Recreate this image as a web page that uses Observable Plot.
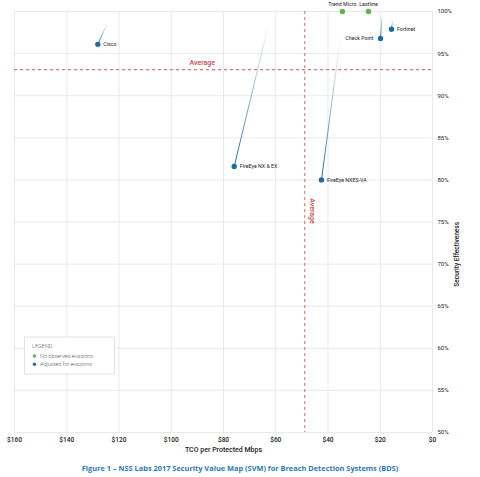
<!DOCTYPE html>
<html>
<head>
<meta charset="utf-8">
<script src="https://cdn.jsdelivr.net/npm/d3@7"></script>
<script src="https://cdn.jsdelivr.net/npm/@observablehq/plot@0.6"></script>
<style>
  body { margin: 0; background: white; }
  #chart { position: relative; width: 480px; }
  #caption { font-family: "Open Sans", sans-serif; font-weight: 700; font-size: 7.4px; color: #2a7ab5; text-align: center; width: 480px; margin-top: 5px; }
</style>
</head>
<body>
<div id="chart"></div>
<div id="caption">Figure 1 – NSS Labs 2017 Security Value Map (SVM) for Breach Detection Systems (BDS)</div>
<script>
const vendors = ["Cisco", "FireEye NX & EX", "FireEye NXES-VA", "Check Point", "Fortinet", "Trend Micro", "Lastline"];
const tco = [128.1, 75.9, 42.5, 19.9, 15.7, 34.5, 24.5];
const security = [96.1, 81.6, 80.0, 96.8, 97.9, 100, 100];
const rawTco = [124.5, 62.9, 35.5, 19.3, 15.3, null, null];
const rawSecurity = [98.6, 98.3, 96.3, 99.6, 98.9, null, null];
const status = ["Adjusted for evasions", "Adjusted for evasions", "Adjusted for evasions", "Adjusted for evasions", "Adjusted for evasions", "No observed evasions", "No observed evasions"];
const labelPos = ["right", "right", "right", "left", "right", "top", "top"];
const avgTco = 48.9;
const avgSecurity = 93.1;
const xTicks = [160, 140, 120, 100, 80, 60, 40, 20, 0];
const yTicks = [50, 55, 60, 65, 70, 75, 80, 85, 90, 95, 100];

const blue = "#1a6ca8", green = "#5cb646", red = "#c8484b";
const rows = vendors.map((v, i) => ({vendor: v, tco: tco[i], se: security[i], rawTco: rawTco[i], rawSe: rawSecurity[i], status: status[i], pos: labelPos[i]}));
const adjusted = rows.filter(d => d.rawTco != null);
const colorOf = s => s === "No observed evasions" ? green : blue;

const svg = Plot.plot({
  width: 480, height: 458,
  marginLeft: 14, marginRight: 48, marginTop: 11, marginBottom: 26,
  style: {fontFamily: "Roboto, sans-serif", background: "white", overflow: "visible"},
  x: {domain: [160, 0]},
  y: {domain: [50, 100]},
  marks: [
    Plot.ruleX(xTicks, {stroke: "#e3e3e3", strokeWidth: 0.8}),
    Plot.ruleY(yTicks, {stroke: "#e3e3e3", strokeWidth: 0.8}),
    Plot.axisX({ticks: xTicks, tickFormat: d => "$" + d, tickSize: 0, tickPadding: 5, fontSize: 6.5, fontWeight: 500, fill: "#222", label: null}),
    Plot.axisY({anchor: "right", ticks: yTicks, tickFormat: d => d + "%", tickSize: 0, tickPadding: 5, fontSize: 6, fill: "#222", label: null}),
    Plot.text(["TCO per Protected Mbps"], {frameAnchor: "bottom", dy: 19, fontSize: 7, fontWeight: 500, fill: "#222"}),
    Plot.text(["Security Effectiveness"], {frameAnchor: "right", dx: 24, rotate: -90, fontSize: 6.5, fontWeight: 500, fill: "#222"}),
    Plot.ruleY([avgSecurity], {stroke: red, strokeOpacity: 0.75, strokeDasharray: "3,3", strokeWidth: 1.1}),
    Plot.ruleX([avgTco], {stroke: red, strokeOpacity: 0.75, strokeDasharray: "3,3", strokeWidth: 1.1}),
    Plot.text(["Average"], {x: 88.1, y: avgSecurity, dy: -7, fill: red, fontSize: 7, fontWeight: 500}),
    Plot.text(["Average"], {x: 46.1, y: 76.3, rotate: 90, fill: red, fontSize: 7, fontWeight: 500}),
    Plot.link(adjusted, {x1: "rawTco", y1: "rawSe", x2: "tco", y2: "se", stroke: "url(#fade)", strokeWidth: 1}),
    Plot.dot(rows, {x: "tco", y: "se", r: 2.7, fill: d => colorOf(d.status)}),
    Plot.text(rows.filter(d => d.pos === "right"), {x: "tco", y: "se", text: "vendor", dx: 5.5, textAnchor: "start", fontSize: 5.3, fill: "#222"}),
    Plot.text(rows.filter(d => d.pos === "left"), {x: "tco", y: "se", text: "vendor", dx: -7, textAnchor: "end", fontSize: 5.3, fill: "#222"}),
    Plot.text(rows.filter(d => d.pos === "top"), {x: "tco", y: "se", text: "vendor", dy: -7, fontSize: 5.3, fill: "#222"})
  ]
});

const s = d3.select(svg);
const defs = s.insert("defs", ":first-child");
const g = defs.append("linearGradient").attr("id", "fade").attr("x1", 0).attr("y1", 0).attr("x2", 0).attr("y2", 1);
g.append("stop").attr("offset", "0%").attr("stop-color", blue).attr("stop-opacity", 0.03);
g.append("stop").attr("offset", "100%").attr("stop-color", blue).attr("stop-opacity", 1);

// Legend box inside the plot
const lg = s.append("g").attr("font-family", "Roboto, sans-serif").attr("text-anchor", "start");
lg.append("rect").attr("x", 24.5).attr("y", 337).attr("width", 90).attr("height", 37).attr("fill", "white").attr("stroke", "#dcdcdc").attr("stroke-width", 0.8);
lg.append("text").attr("x", 32).attr("y", 348).attr("font-size", 5.5).attr("font-weight", 300).attr("fill", "#555").text("LEGEND");
const items = [["No observed evasions", green], ["Adjusted for evasions", blue]];
items.forEach(([t, c], i) => {
  lg.append("circle").attr("cx", 34.5).attr("cy", 356 + i * 8.3).attr("r", 1.7).attr("fill", c);
  lg.append("text").attr("x", 40).attr("y", 356 + i * 8.3).attr("dy", "0.35em").attr("font-size", 5.5).attr("font-weight", 300).attr("fill", "#555").text(t);
});

document.getElementById("chart").appendChild(svg);
</script>
</body>
</html>
